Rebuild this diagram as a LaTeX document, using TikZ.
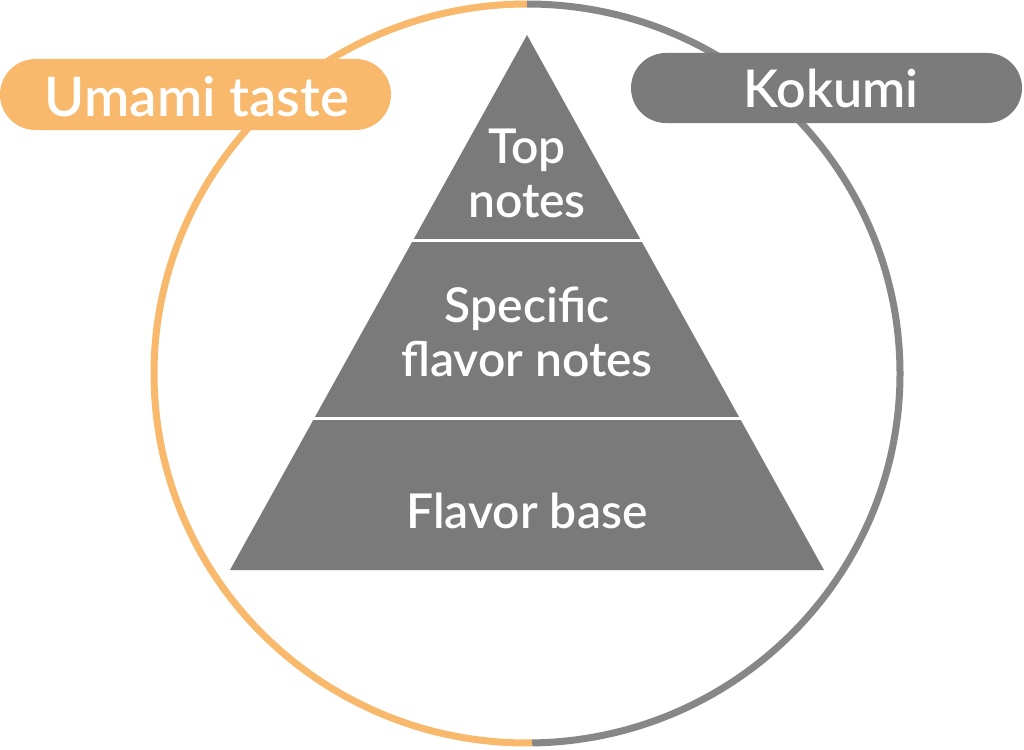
\documentclass[tikz,border=0pt]{standalone}
\usepackage{fontspec}
\setmainfont{Lato}
\newfontfamily\latosb{Lato Semibold}
\definecolor{umami}{HTML}{F8B96C}
\definecolor{pillgray}{HTML}{7B7B7B}
\definecolor{ringgray}{HTML}{878787}
\definecolor{pyrgray}{HTML}{7A7A7A}
\begin{document}
\begin{tikzpicture}[x=1pt,y=-1pt,
  ring/.style={line width=7pt},
  label/.style={text=white, inner sep=0pt, anchor=base, font=\fontsize{48}{54}\selectfont\latosb},
  gap/.style={white, line width=3pt}]
\useasboundingbox (0,0) rectangle (1024,749);
\fill[white] (0,0) rectangle (1024,749);
% ring
\coordinate (c) at (527,373.5);
\draw[ring, umami] (c) ++(89.2:373 and 369.5) arc[start angle=89.2, end angle=270, x radius=373, y radius=369.5];
\draw[ring, ringgray] (c) ++(270:373 and 369.5) arc[start angle=270, end angle=449.2, x radius=373, y radius=369.5];
% pills
\fill[umami, rounded corners=35.5pt] (0,59) rectangle (391,130);
\fill[pillgray, rounded corners=35pt] (631,53) rectangle (1022,123);
\node[label, font=\fontsize{54.5}{60}\selectfont\latosb] (umamitxt) at (197,117) {Umami taste};
\node[label, font=\fontsize{52}{60}\selectfont\latosb] (kokumitxt) at (831,108) {Kokumi};
% pyramid
\coordinate (apex) at (527,35);
\coordinate (bl) at (230,570);
\coordinate (br) at (824,570);
\fill[pyrgray] (apex) -- (br) -- (bl) -- cycle;
\draw[gap] (400,240.5) -- (660,240.5);
\draw[gap] (300,418.5) -- (760,418.5);
% labels
\node[label] (top1) at (527,163) {Top};
\node[label] (top2) at (527,217) {notes};
\node[label] (mid1) at (527,322) {Specific};
\node[label] (mid2) at (527,376) {flavor notes};
\node[label] (base) at (527,528) {Flavor base};
\end{tikzpicture}
\end{document}
